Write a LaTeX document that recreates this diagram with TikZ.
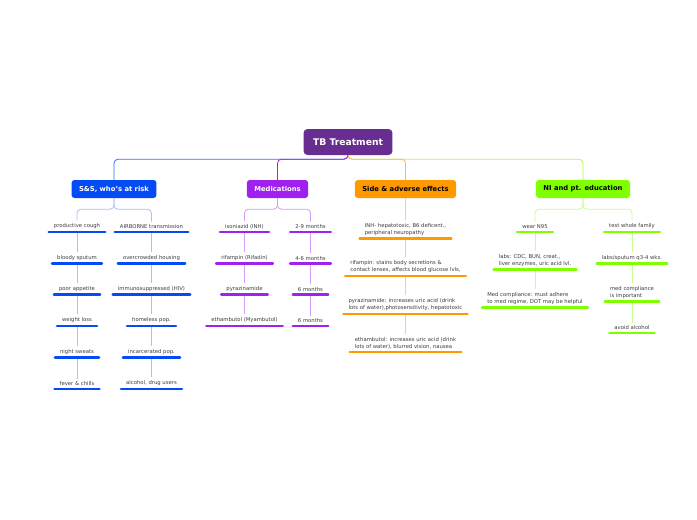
\documentclass[tikz,border=0pt]{standalone}
\usepackage{fontspec}
\setmainfont{DejaVu Sans}
\definecolor{tbroot}{RGB}{104,45,145}
\definecolor{tbblue}{RGB}{5,75,245}
\definecolor{tbpurple}{RGB}{160,32,240}
\definecolor{tborange}{RGB}{255,153,0}
\definecolor{tbgreen}{RGB}{128,255,0}
\definecolor{txtgray}{RGB}{60,60,60}
\tikzset{
  topic/.style={rectangle,rounded corners=3pt,fill=#1,inner xsep=7.5pt,minimum height=18pt,font=\fontsize{6.8}{8}\selectfont\bfseries},
  itm/.style={inner xsep=5pt,inner ysep=3pt,anchor=south,align=left,text=txtgray,font=\fontsize{5.3}{7}\selectfont},
  ul/.style={line width=2.5pt,line cap=round,draw=#1},
  lk/.style={line width=0.8pt,draw=#1,rounded corners=4pt}
}
\begin{document}
\begin{tikzpicture}[x=1pt,y=-1pt]
  \useasboundingbox[fill=white] (0,0) rectangle (697,520);
  % central topic and main branches
  \node[rectangle,rounded corners=4pt,fill=tbroot,text=white,inner xsep=9.5pt,minimum height=26pt,font=\fontsize{9.2}{11}\selectfont\bfseries] (root) at (348,142) {TB Treatment};
  \node[topic=tbblue,text=white] (ss) at (114,189) {S\&S, who's at risk};
  \node[topic=tbpurple,text=white] (med) at (277.5,189) {Medications};
  \node[topic=tborange] (side) at (405.5,189) {Side \& adverse effects};
  \node[topic=tbgreen] (ni) at (583,189) {NI and pt. education};
  \draw[lk=tbblue!80!white] (root.south) -- ++(0,4) -| (ss.north);
  \draw[lk=tbpurple] (root.south) -- ++(0,4) -| (med.north);
  \draw[lk=tbgreen!70!white] (root.south) -- ++(0,4) -| (ni.north);
  \draw[lk=tborange!70!white] (root.south) -- ++(0,4) -| (side.north);
  % S&S
  \node[itm] (s1) at (77,232) {productive cough};
  \node[itm] (s2) at (77,263.5) {bloody sputum};
  \node[itm] (s3) at (77,294.5) {poor appetite};
  \node[itm] (s4) at (77,326) {weight loss};
  \node[itm] (s5) at (77,357.5) {night sweats};
  \node[itm] (s6) at (77,389) {fever \& chills};
  \node[itm] (r1) at (151.5,232) {AIRBORNE transmission};
  \node[itm] (r2) at (151.5,263.5) {overcrowded housing};
  \node[itm] (r3) at (151.5,294.5) {immunosuppressed (HIV)};
  \node[itm] (r4) at (151.5,326) {homeless pop.};
  \node[itm] (r5) at (151.5,357.5) {incarcerated pop.};
  \node[itm] (r6) at (151.5,389) {alcohol, drug users};
  % Medications
  \node[itm] (m1) at (244.5,232) {isoniazid (INH)};
  \node[itm] (m2) at (244.5,263.5) {rifampin (Rifadin)};
  \node[itm] (m3) at (244.5,294.5) {pyrazinamide};
  \node[itm] (m4) at (244.5,326) {ethambutol (Myambutol)};
  \node[itm] (t1) at (310.5,232) {2-9 months};
  \node[itm] (t2) at (310.5,263.5) {4-6 months};
  \node[itm] (t3) at (310.5,294.5) {6 months};
  \node[itm] (t4) at (310.5,326) {6 months};
  % Side effects
  \node[itm] (e1) at (405.5,238.5) {INH- hepatotoxic, B6 deficent.,\\peripheral neuropathy};
  \node[itm] (e2) at (405.5,276) {rifampin: stains body secretions \&\\contact lenses, affects blood glucose lvls,};
  \node[itm] (e3) at (405.5,314) {pyrazinamide: increases uric acid (drink\\lots of water),photosensitivity, hepatotoxic};
  \node[itm] (e4) at (405.5,352) {ethambutol: increases uric acid (drink\\lots of water), blurred vision, nausea};
  % NI and pt. education
  \node[itm] (n1) at (535,232) {wear N95};
  \node[itm] (n2) at (535,269.5) {labs: CDC, BUN, creat.,\\liver enzymes, uric acid lvl.};
  \node[itm] (n3) at (535,307.5) {Med compliance: must adhere\\to med regime, DOT may be helpful};
  \node[itm] (p1) at (632,232) {test whole family};
  \node[itm] (p2) at (632,263.5) {labs/sputum q3-4 wks.};
  \node[itm] (p3) at (632,301.5) {med compliance\\is important};
  \node[itm] (p4) at (632,333) {avoid alcohol};
  % connectors
  \draw[lk=tbblue!35!white] (ss.south) -- ++(0,11) -| (s1.north);
  \draw[lk=tbblue!35!white] (ss.south) -- ++(0,11) -| (r1.north);
  \draw[lk=tbpurple!45!white] (med.south) -- ++(0,11) -| (m1.north);
  \draw[lk=tbpurple!45!white] (med.south) -- ++(0,11) -| (t1.north);
  \draw[lk=tborange!50!white] (side.south) -- (e1.north);
  \draw[lk=tbgreen!45!white] (ni.south) -- ++(0,11) -| (n1.north);
  \draw[lk=tbgreen!45!white] (ni.south) -- ++(0,11) -| (p1.north);
  \foreach \a/\b in {s1/s2,s2/s3,s3/s4,s4/s5,s5/s6,r1/r2,r2/r3,r3/r4,r4/r5,r5/r6}
    \draw[lk=tbblue!35!white] (\a.south) -- (\b.north);
  \foreach \a/\b in {m1/m2,m2/m3,m3/m4,t1/t2,t2/t3,t3/t4}
    \draw[lk=tbpurple!45!white] (\a.south) -- (\b.north);
  \foreach \a/\b in {e1/e2,e2/e3,e3/e4}
    \draw[lk=tborange!50!white] (\a.south) -- (\b.north);
  \foreach \a/\b in {n1/n2,n2/n3,p1/p2,p2/p3,p3/p4}
    \draw[lk=tbgreen!45!white] (\a.south) -- (\b.north);
  % underlines
  \foreach \n in {s1,s2,s3,s4,s5,s6,r1,r2,r3,r4,r5,r6}
    \draw[ul=tbblue] (\n.south west) -- (\n.south east);
  \foreach \n in {m1,m2,m3,m4,t1,t2,t3,t4}
    \draw[ul=tbpurple] (\n.south west) -- (\n.south east);
  \foreach \n in {e1,e2,e3,e4}
    \draw[ul=tborange] (\n.south west) -- (\n.south east);
  \foreach \n in {n1,n2,n3,p1,p2,p3,p4}
    \draw[ul=tbgreen] (\n.south west) -- (\n.south east);
\end{tikzpicture}
\end{document}
